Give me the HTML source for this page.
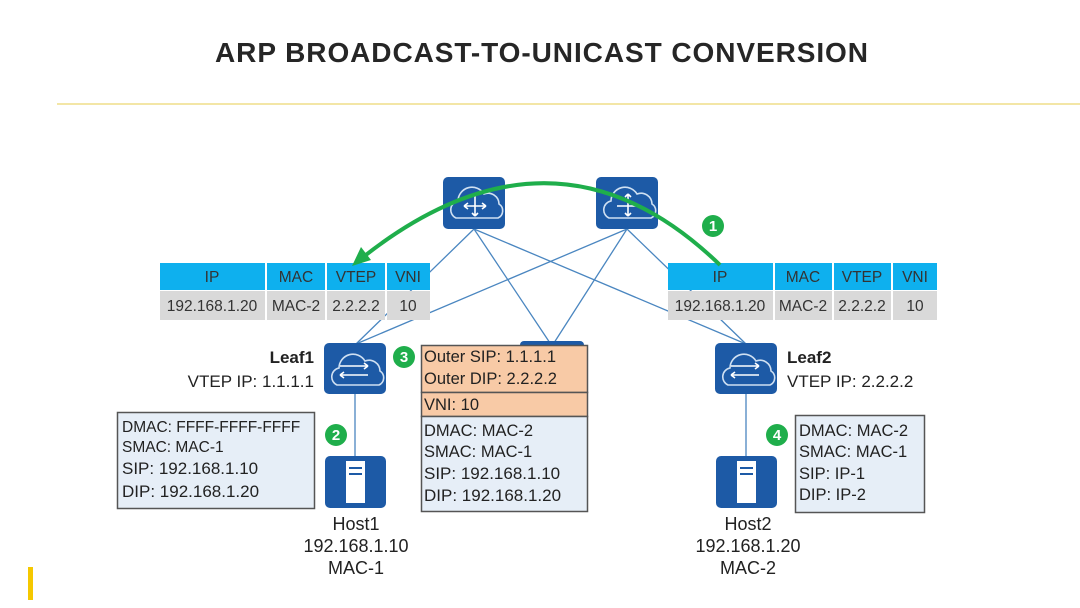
<!DOCTYPE html>
<html><head><meta charset="utf-8"><style>
html,body{margin:0;padding:0;background:#fff;}
body{width:1080px;height:608px;position:relative;overflow:hidden;font-family:"Liberation Sans",sans-serif;}
</style></head><body>
<svg width="1080" height="608" viewBox="0 0 1080 608" xmlns="http://www.w3.org/2000/svg" style="position:absolute;left:0;top:0">
<defs>
<g id="cloud"><path d="M10 40 a9 9 0 0 1 2-17 a14 14 0 0 1 26-7 a11 11 0 0 1 15 10 a8 8 0 0 1 -1 14 z" fill="none" stroke="#cfe0f2" stroke-width="1.6"/></g>
</defs>
<text x="215" y="62" textLength="653" lengthAdjust="spacing" font-family="Liberation Sans" font-weight="bold" font-size="28" fill="#262626">ARP BROADCAST-TO-UNICAST  CONVERSION</text>
<line x1="57" y1="104" x2="1080" y2="104" stroke="#f3e6a6" stroke-width="2"/>
<rect x="28" y="567" width="5" height="33" fill="#f5c800"/>
<g stroke="#4a86c0" stroke-width="1.3">
<line x1="474" y1="229" x2="356" y2="344"/>
<line x1="474" y1="229" x2="746" y2="344"/>
<line x1="474" y1="229" x2="552" y2="346"/>
<line x1="627" y1="229" x2="356" y2="344"/>
<line x1="627" y1="229" x2="746" y2="344"/>
<line x1="627" y1="229" x2="552" y2="346"/>
<line x1="355" y1="394" x2="355" y2="457"/>
<line x1="746" y1="394" x2="746" y2="457"/>
</g>
<rect x="520" y="341" width="64" height="14" rx="4" fill="#1d5aa6"/>
<g>
<rect x="443" y="177" width="62" height="52" rx="5" fill="#1d5aa6"/>
<use href="#cloud" x="446" y="178"/>
<path d="M464 206 h22 M475 196 v20 M486 206 l-4 -3 M486 206 l-4 3 M475 216 l-3 -3 M475 216 l3 -3 M464 206 l4 -3 M464 206 l4 3" stroke="#fff" stroke-width="1.6" fill="none"/>
<rect x="596" y="177" width="62" height="52" rx="5" fill="#1d5aa6"/>
<use href="#cloud" x="599" y="178"/>
<path d="M617 206 h22 M628 194 v22 M628 194 l-3 3 M628 194 l3 3 M628 216 l-3 -3 M628 216 l3 -3" stroke="#fff" stroke-width="1.6" fill="none"/>
</g>
<g>
<rect x="324" y="343" width="62" height="51" rx="5" fill="#1d5aa6"/>
<use href="#cloud" x="327" y="345"/>
<path d="M340 366 h28 M340 375 h28 M368 366 l-4 -3 M368 366 l-4 3 M340 375 l4 -3 M340 375 l4 3" stroke="#fff" stroke-width="1.6" fill="none"/>
<rect x="715" y="343" width="62" height="51" rx="5" fill="#1d5aa6"/>
<use href="#cloud" x="718" y="345"/>
<path d="M731 366 h28 M731 375 h28 M759 366 l-4 -3 M759 366 l-4 3 M731 375 l4 -3 M731 375 l4 3" stroke="#fff" stroke-width="1.6" fill="none"/>
</g>
<g>
<rect x="325" y="456" width="61" height="52" rx="5" fill="#1d5aa6"/>
<rect x="346" y="461" width="19" height="42" fill="#fff"/>
<path d="M349 468 h13 M349 474 h13" stroke="#1d5aa6" stroke-width="2"/>
<rect x="716" y="456" width="61" height="52" rx="5" fill="#1d5aa6"/>
<rect x="737" y="461" width="19" height="42" fill="#fff"/>
<path d="M740 468 h13 M740 474 h13" stroke="#1d5aa6" stroke-width="2"/>
</g>
<g font-family="Liberation Sans" font-size="15.5" fill="#333" text-anchor="middle">
<rect x="160" y="263" width="105" height="27" fill="#0eb0ee"/><rect x="267" y="263" width="58" height="27" fill="#0eb0ee"/><rect x="327" y="263" width="58" height="27" fill="#0eb0ee"/><rect x="387" y="263" width="43" height="27" fill="#0eb0ee"/>
<rect x="160" y="291" width="105" height="29" fill="#d9d9d9"/><rect x="267" y="291" width="58" height="29" fill="#d9d9d9"/><rect x="327" y="291" width="58" height="29" fill="#d9d9d9"/><rect x="387" y="291" width="43" height="29" fill="#d9d9d9"/>
<text x="212" y="282">IP</text><text x="296" y="282">MAC</text><text x="356" y="282">VTEP</text><text x="408" y="282">VNI</text>
<text x="212" y="311">192.168.1.20</text><text x="296" y="311">MAC-2</text><text x="356" y="311">2.2.2.2</text><text x="408" y="311">10</text>
<rect x="668" y="263" width="105" height="27" fill="#0eb0ee"/><rect x="775" y="263" width="57" height="27" fill="#0eb0ee"/><rect x="834" y="263" width="57" height="27" fill="#0eb0ee"/><rect x="893" y="263" width="44" height="27" fill="#0eb0ee"/>
<rect x="668" y="291" width="105" height="29" fill="#d9d9d9"/><rect x="775" y="291" width="57" height="29" fill="#d9d9d9"/><rect x="834" y="291" width="57" height="29" fill="#d9d9d9"/><rect x="893" y="291" width="44" height="29" fill="#d9d9d9"/>
<text x="720" y="282">IP</text><text x="803" y="282">MAC</text><text x="862" y="282">VTEP</text><text x="915" y="282">VNI</text>
<text x="720" y="311">192.168.1.20</text><text x="803" y="311">MAC-2</text><text x="862" y="311">2.2.2.2</text><text x="915" y="311">10</text>
</g>
<path d="M720 265 Q555 105 362 258" fill="none" stroke="#1fae4b" stroke-width="4"/>
<polygon points="352,266 361,247 371,260" fill="#1fae4b"/>
<g font-family="Liberation Sans" font-size="17" fill="#222">
<text x="314" y="363" text-anchor="end" font-weight="bold">Leaf1</text>
<text x="314" y="387" text-anchor="end">VTEP IP: 1.1.1.1</text>
<text x="787" y="363" font-weight="bold">Leaf2</text>
<text x="787" y="387">VTEP IP: 2.2.2.2</text>
<g text-anchor="middle" font-size="18">
<text x="356" y="530">Host1</text><text x="356" y="552">192.168.1.10</text><text x="356" y="574">MAC-1</text>
<text x="748" y="530">Host2</text><text x="748" y="552">192.168.1.20</text><text x="748" y="574">MAC-2</text>
</g>
</g>
<g font-family="Liberation Sans" font-size="15.5" fill="#222">
<rect x="117.5" y="412.5" width="197" height="96" fill="#e6eef7" stroke="#555" stroke-width="1.5"/>
<text x="122" y="432">DMAC: FFFF-FFFF-FFFF</text><text x="122" y="452">SMAC: MAC-1</text><text x="122" y="474" font-size="17">SIP: 192.168.1.10</text><text x="122" y="497" font-size="17">DIP: 192.168.1.20</text>
<rect x="421.5" y="345.5" width="166" height="47" fill="#f8caa6" stroke="#555" stroke-width="1.5"/>
<rect x="421.5" y="392.5" width="166" height="24" fill="#f8caa6" stroke="#555" stroke-width="1.5"/>
<rect x="421.5" y="416.5" width="166" height="95" fill="#e6eef7" stroke="#555" stroke-width="1.5"/>
<text x="424" y="362" font-size="16.5">Outer SIP: 1.1.1.1</text><text x="424" y="384" font-size="16.5">Outer DIP: 2.2.2.2</text>
<text x="424" y="410" font-size="16.5">VNI: 10</text>
<text x="424" y="436" font-size="16.5">DMAC: MAC-2</text><text x="424" y="457" font-size="16.5">SMAC: MAC-1</text><text x="424" y="479" font-size="17">SIP: 192.168.1.10</text><text x="424" y="501" font-size="17">DIP: 192.168.1.20</text>
<rect x="795.5" y="415.5" width="129" height="97" fill="#e6eef7" stroke="#555" stroke-width="1.5"/>
<g font-size="16.5"><text x="799" y="436">DMAC: MAC-2</text><text x="799" y="457">SMAC: MAC-1</text><text x="799" y="479">SIP: IP-1</text><text x="799" y="500">DIP: IP-2</text></g>
</g>
<g font-family="Liberation Sans" font-size="15" font-weight="bold" fill="#fff" text-anchor="middle">
<circle cx="713" cy="226" r="11" fill="#1fae4b"/><text x="713" y="231">1</text>
<circle cx="336" cy="435" r="11" fill="#1fae4b"/><text x="336" y="440">2</text>
<circle cx="404" cy="357" r="11" fill="#1fae4b"/><text x="404" y="362">3</text>
<circle cx="777" cy="435" r="11" fill="#1fae4b"/><text x="777" y="440">4</text>
</g>
</svg>
</body></html>
